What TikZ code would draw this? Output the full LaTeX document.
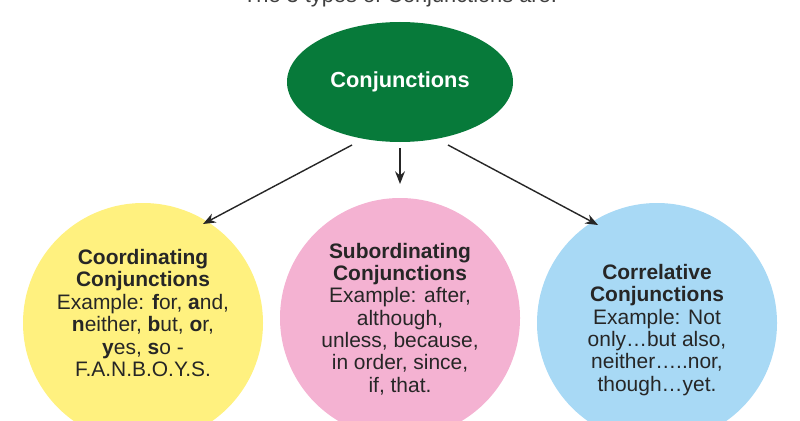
\documentclass[tikz,border=0pt]{standalone}
\usepackage{fontspec}
\setmainfont{Liberation Sans}
\usetikzlibrary{shapes.geometric,arrows.meta}
\definecolor{dg}{HTML}{077A3A}
\definecolor{yel}{HTML}{FFF17F}
\definecolor{pnk}{HTML}{F4B2D2}
\definecolor{blu}{HTML}{A8D9F5}
\begin{document}
\begin{tikzpicture}[x=0.025cm,y=-0.025cm,
  circ/.style={circle,minimum size=240*0.025cm,inner sep=0pt},
  txt/.style={align=center,text=black!85,font=\fontsize{14.9}{15.9}\selectfont},
  arr/.style={-{Stealth[length=9pt,width=7pt]},line width=1pt,black!85}]
\useasboundingbox (0,0) rectangle (800,420);
\clip (0,0) rectangle (800,420);
\node[text=black!75,font=\fontsize{15.5}{18}\selectfont] (t) at (400,-3) {The 3 types of Conjunctions are:};
\node[ellipse,fill=dg,minimum width=226*0.025cm,minimum height=120*0.025cm,text=white,font=\bfseries\fontsize{15.5}{17}\selectfont] (c) at (400,82) {Conjunctions};
\node[circ,fill=yel] (a) at (143,323) {};
\node[circ,fill=pnk] (b) at (400,318) {};
\node[circ,fill=blu] (d) at (657,323) {};
\node[txt] (at) at (143,313) {\textbf{Coordinating}\\\textbf{Conjunctions}\\Example: \textbf{f}or, \textbf{a}nd,\\\textbf{n}either, \textbf{b}ut, \textbf{o}r,\\\textbf{y}es, \textbf{s}o -\\F.A.N.B.O.Y.S.};
\node[txt] (bt) at (400,319) {\textbf{Subordinating}\\\textbf{Conjunctions}\\Example: after,\\although,\\unless, because,\\in order, since,\\if, that.};
\node[txt] (dt) at (657,330) {\textbf{Correlative}\\\textbf{Conjunctions}\\Example: Not\\only…but also,\\neither…..nor,\\though…yet.};
\coordinate (a1) at (352,145); \coordinate (a2) at (203,224);
\coordinate (b1) at (400,148); \coordinate (b2) at (400,184);
\coordinate (d1) at (448,145); \coordinate (d2) at (598,225);
\draw[arr] (a1) -- (a2);
\draw[arr] (b1) -- (b2);
\draw[arr] (d1) -- (d2);
\end{tikzpicture}
\end{document}
